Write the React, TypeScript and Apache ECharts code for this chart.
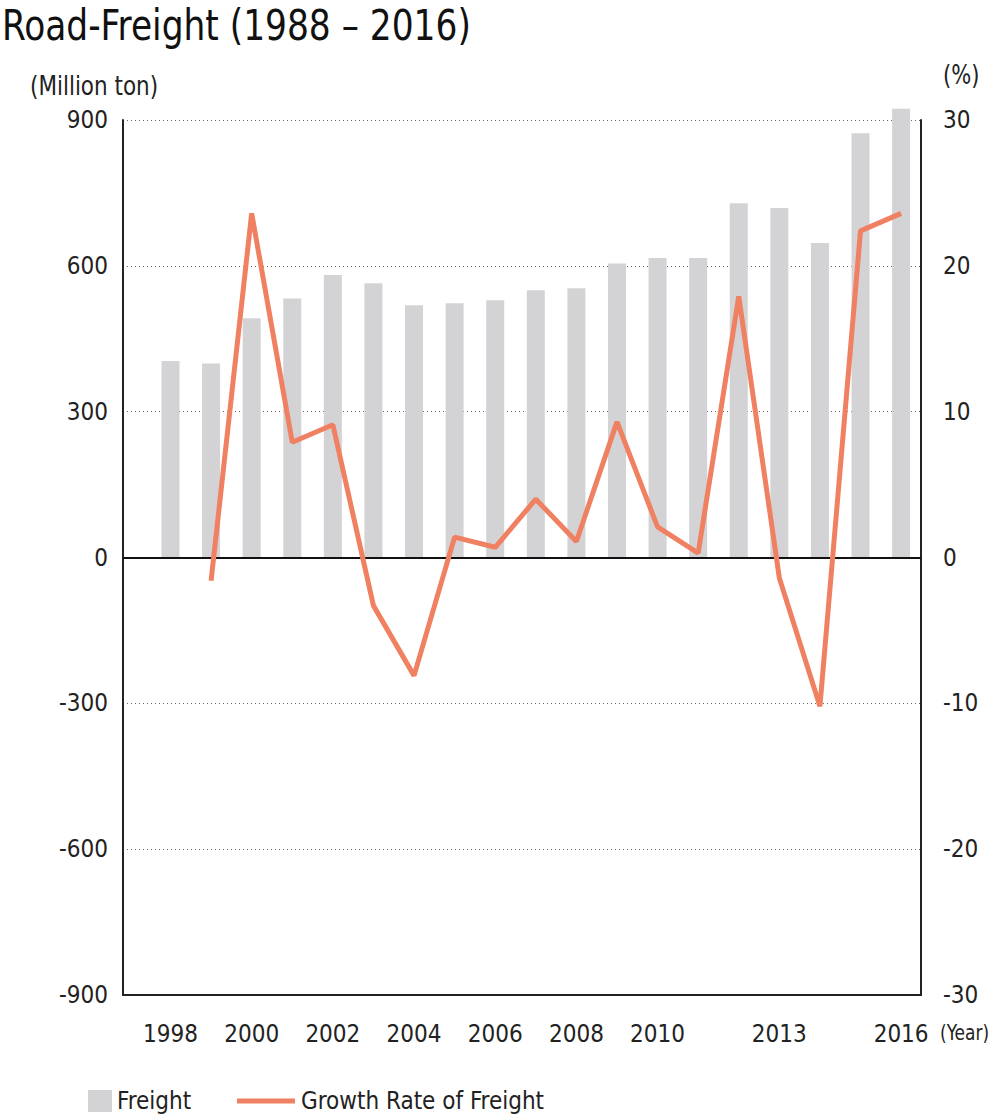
import React, { useEffect, useRef } from "react";
import * as echarts from "echarts";

// Road freight volume (million ton) by year, and its year-on-year growth (%)
const years = [
  1998, 1999, 2000, 2001, 2002, 2003, 2004, 2005, 2006, 2007,
  2008, 2009, 2010, 2011, 2012, 2013, 2014, 2015, 2016,
];
const freight = [
  404, 399, 492, 533, 581, 564, 519, 523, 529, 550,
  554, 605, 616, 616, 729, 719, 647, 873, 923,
];
const growthYears = [
  1999, 2000, 2001, 2002, 2003, 2004, 2005, 2006, 2007,
  2008, 2009, 2010, 2011, 2012, 2013, 2014, 2015, 2016,
];
const growthRate = [
  -1.6, 23.6, 7.9, 9.1, -3.3, -8.1, 1.4, 0.7, 4.0,
  1.1, 9.3, 2.1, 0.3, 17.9, -1.4, -10.2, 22.4, 23.6,
];
const yearTicks = [1998, 2000, 2002, 2004, 2006, 2008, 2010, 2013, 2016];
const leftTicks = [-900, -600, -300, 0, 300, 600, 900];
const rightTicks = [-30, -20, -10, 0, 10, 20, 30];

const FONT = "'DejaVu Sans Condensed', 'Roboto', sans-serif";
const TEXT = "#222";
const BAR_COLOR = "#d3d3d5";
const LINE_COLOR = "#f08062";

export default function App() {
  const ref = useRef<HTMLDivElement>(null);

  useEffect(() => {
    if (!ref.current) return;
    const chart = echarts.init(ref.current, undefined, { renderer: "svg" });

    chart.setOption({
      animation: false,
      textStyle: { fontFamily: FONT },
      graphic: [
        {
          type: "text",
          x: 2,
          y: 4,
          scaleX: 0.89,
          style: {
            text: "Road-Freight (1988 – 2016)",
            font: `43px ${FONT}`,
            fill: "#111",
            textVerticalAlign: "top",
          },
        },
        {
          type: "text",
          x: 30,
          y: 73,
          scaleX: 0.92,
          style: { text: "(Million ton)", font: `26px ${FONT}`, fill: TEXT },
        },
        {
          type: "text",
          x: 943,
          y: 62,
          scaleX: 0.9,
          style: { text: "(%)", font: `26px ${FONT}`, fill: TEXT },
        },
        {
          type: "text",
          x: 940,
          y: 1021,
          scaleX: 0.86,
          style: { text: "(Year)", font: `22px ${FONT}`, fill: TEXT },
        },
      ],
      legend: [
        {
          data: [{ name: "Freight", icon: "rect" }],
          left: 83,
          top: 1084,
          itemWidth: 24,
          itemHeight: 22,
          textStyle: { fontFamily: FONT, fontSize: 24, color: TEXT },
        },
        {
          data: [{ name: "Growth Rate of Freight", icon: "rect" }],
          left: 232,
          top: 1084,
          itemWidth: 58,
          itemHeight: 5,
          textStyle: { fontFamily: FONT, fontSize: 24, color: TEXT, padding: [0, 0, 0, 1] },
        },
      ],
      grid: { left: 123, right: 74, top: 120, bottom: 121 },
      xAxis: {
        type: "value",
        min: 1996.83,
        max: 2016.49,
        splitLine: { show: false },
        axisLine: { show: true, onZero: false, lineStyle: { color: TEXT, width: 2 } },
        axisTick: { show: false },
        axisLabel: {
          customValues: yearTicks,
          margin: 27,
          fontSize: 24,
          fontFamily: FONT,
          color: TEXT,
          formatter: (v: number) => String(v),
        },
      },
      yAxis: [
        {
          type: "value",
          min: leftTicks[0],
          max: leftTicks[leftTicks.length - 1],
          interval: 300,
          axisLine: { show: true, lineStyle: { color: TEXT, width: 2 } },
          axisTick: { show: false },
          axisLabel: { margin: 15, fontSize: 24, fontFamily: FONT, color: TEXT },
          splitLine: { show: true, lineStyle: { type: [1, 3], color: "#666", width: 1 } },
        },
        {
          type: "value",
          min: rightTicks[0],
          max: rightTicks[rightTicks.length - 1],
          interval: 10,
          position: "right",
          axisLine: { show: true, lineStyle: { color: TEXT, width: 2 } },
          axisTick: { show: false },
          axisLabel: { margin: 22, fontSize: 24, fontFamily: FONT, color: TEXT },
          splitLine: { show: false },
        },
      ],
      series: [
        {
          name: "Freight",
          type: "bar",
          yAxisIndex: 0,
          barWidth: 18,
          clip: false,
          itemStyle: { color: BAR_COLOR },
          data: years.map((y, i) => [y, freight[i]]),
          markLine: {
            silent: true,
            symbol: "none",
            label: { show: false },
            lineStyle: { color: "#111", width: 2, type: "solid" },
            data: [{ yAxis: 0 }],
          },
        },
        {
          name: "Growth Rate of Freight",
          type: "line",
          yAxisIndex: 1,
          symbol: "none",
          lineStyle: { color: LINE_COLOR, width: 5 },
          itemStyle: { color: LINE_COLOR },
          data: growthYears.map((y, i) => [y, growthRate[i]]),
          z: 5,
        },
      ],
    });

    return () => chart.dispose();
  }, []);

  return (
    <div
      ref={ref}
      style={{ position: "absolute", left: 0, top: 0, width: 995, height: 1116 }}
    />
  );
}
